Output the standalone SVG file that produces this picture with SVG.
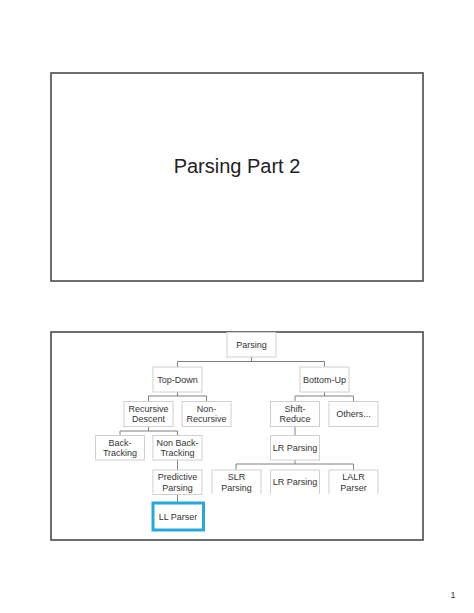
<svg xmlns="http://www.w3.org/2000/svg" width="474" height="613" viewBox="0 0 474 613">
<style>
.slide{fill:#fff;stroke:#4a4a4a;stroke-width:1.6}
.box{fill:#fff;stroke:#cfcfcf;stroke-width:1}
.open{fill:#fff;stroke:#cfcfcf;stroke-width:1}
.hl{fill:#fff;stroke:#27a7df;stroke-width:3}
.t{font-family:"Liberation Sans",Arial,sans-serif;font-size:9px;fill:#333;text-anchor:middle}
.title{font-family:"Liberation Sans",Arial,sans-serif;font-size:20px;fill:#222;text-anchor:middle}
.conn{fill:none;stroke:#7f7f7f;stroke-width:1}
</style>
<rect width="474" height="613" fill="#fff"/>
<g id="slide1">
<rect class="slide" x="51" y="73" width="372" height="208"/>
<text class="title" x="237" y="172.5">Parsing Part 2</text>
</g>
<g id="slide2">
<rect class="slide" x="51" y="332" width="372" height="208"/>
</g>
<g id="connectors">
<path class="conn" d="M251.5 357V361.5M177.5 367V361.5H324.5V367"/>
<path class="conn" d="M177.5 392V396M148.5 401.5V396H206.5V401.5"/>
<path class="conn" d="M324.5 392V396M295 401.5V396H353.5V401.5"/>
<path class="conn" d="M148.5 426.5V431M120 435.5V431H177.5V435.5"/>
<path class="conn" d="M177.5 460V470"/>
<path class="conn" d="M177.5 494.5V502"/>
<path class="conn" d="M295 426.5V435.5"/>
<path class="conn" d="M295 460V464M236 470V464H353.5V470"/>
</g>
<g id="n-parsing"><rect class="box" x="227" y="332.5" width="49" height="24.5"/><text class="t" x="251.5" y="347.7">Parsing</text></g>
<g id="n-topdown"><rect class="box" x="153" y="367" width="49" height="25"/><text class="t" x="177.5" y="382.5">Top-Down</text></g>
<g id="n-bottomup"><rect class="box" x="300" y="367" width="49" height="25"/><text class="t" x="324.5" y="382.5">Bottom-Up</text></g>
<g id="n-recursive"><rect class="box" x="124" y="401.5" width="49" height="25"/><text class="t" x="148.5" y="411.7">Recursive</text><text class="t" x="148.5" y="422.3">Descent</text></g>
<g id="n-nonrecursive"><rect class="box" x="182" y="401.5" width="49" height="25"/><text class="t" x="206.5" y="411.7">Non-</text><text class="t" x="206.5" y="422.3">Recursive</text></g>
<g id="n-shiftreduce"><rect class="box" x="270.5" y="401.5" width="49" height="25"/><text class="t" x="295" y="411.7">Shift-</text><text class="t" x="295" y="422.3">Reduce</text></g>
<g id="n-others"><rect class="box" x="329" y="401.5" width="49" height="25"/><text class="t" x="353.5" y="417">Others...</text></g>
<g id="n-backtracking"><rect class="box" x="95.5" y="435.5" width="49" height="24.5"/><text class="t" x="120" y="445.5">Back-</text><text class="t" x="120" y="456">Tracking</text></g>
<g id="n-nonbacktracking"><rect class="box" x="153" y="435.5" width="49" height="24.5"/><text class="t" x="177.5" y="445.5">Non Back-</text><text class="t" x="177.5" y="456">Tracking</text></g>
<g id="n-lrparsing"><rect class="box" x="270.5" y="435.5" width="49" height="24.5"/><text class="t" x="295" y="451">LR Parsing</text></g>
<g id="n-predictive"><rect class="box" x="153" y="470" width="49" height="24.5"/><text class="t" x="177.5" y="480">Predictive</text><text class="t" x="177.5" y="490.5">Parsing</text></g>
<g id="n-slr"><path class="open" d="M212 494V470H261V494"/><text class="t" x="236.5" y="480">SLR</text><text class="t" x="236.5" y="490.5">Parsing</text></g>
<g id="n-lr2"><path class="open" d="M270.5 494V470H319.5V494"/><text class="t" x="295" y="485">LR Parsing</text></g>
<g id="n-lalr"><path class="open" d="M329 494V470H378V494"/><text class="t" x="353.5" y="480">LALR</text><text class="t" x="353.5" y="490.5">Parser</text></g>
<g id="n-llparser"><rect class="hl" x="153" y="503" width="50.5" height="27"/><text class="t" x="178" y="519.5">LL Parser</text></g>
<text class="t" x="453" y="598" style="font-size:9px">1</text>
</svg>
